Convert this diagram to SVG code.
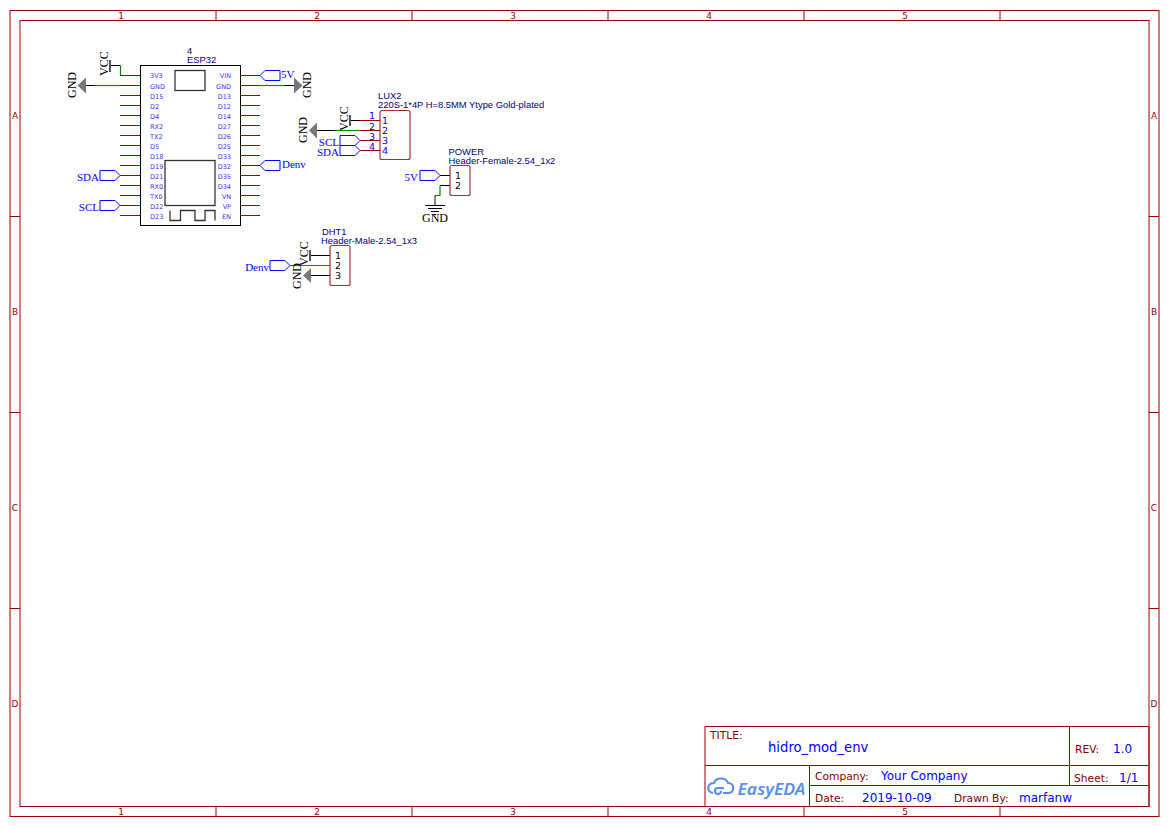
<svg xmlns="http://www.w3.org/2000/svg" width="1169" height="827" viewBox="0 0 1169 827">
<style>
text{font-family:"DejaVu Sans",sans-serif}
.f{fill:none;stroke:#990000;stroke-width:1}
.fl{font-size:9px;fill:#990000;text-anchor:middle}
.tl{font-size:10.700px;fill:#880000}
.tv{font-size:12px;fill:#0000ff}
.pin{stroke:#990000;stroke-width:1;fill:none}
.k{stroke:#000;stroke-width:1;fill:none}
.g{stroke:#008800;stroke-width:1.200;fill:none}
.gy{fill:#777;stroke:none}
.bar{stroke:#555;stroke-width:2;fill:none}
.pt{font-size:6.500px;fill:#3333ff}
.pr{text-anchor:end}
.ref{font-family:"Liberation Sans",sans-serif;font-size:9.400px;fill:#000080}
.num{font-size:9.500px;fill:#0000ff}
.bn{font-size:9.500px;fill:#000}
.net{font-family:"Liberation Serif",serif;font-size:12px;fill:#000}
.nb{font-family:"Liberation Serif",serif;font-size:11px;fill:#0000ff}
.flag{fill:#fff;stroke:#0000ff;stroke-width:1}
.box{fill:#fff;stroke:#993333;stroke-width:1.200}
.mod{fill:none;stroke:#333;stroke-width:1.300}
</style>
<rect width="1169" height="827" fill="#fff"/>
<g id="frame">
<rect class="f" x="10" y="10.500" width="1149" height="806"/>
<rect class="f" x="20" y="20.500" width="1129" height="786"/>
<path class="f" d="M216 10.500V20.500M412 10.500V20.500M608 10.500V20.500M804 10.500V20.500M1000 10.500V20.500M216 806.500V816.500M412 806.500V816.500M608 806.500V816.500M804 806.500V816.500M1000 806.500V816.500M10 216.500H20M10 412.500H20M10 608.500H20M1149 216.500H1159M1149 412.500H1159M1149 608.500H1159"/>
<g class="fl">
<text x="121" y="19">1</text><text x="317" y="19">2</text><text x="513" y="19">3</text><text x="709" y="19">4</text><text x="905" y="19">5</text>
<text x="121" y="815">1</text><text x="317" y="815">2</text><text x="513" y="815">3</text><text x="709" y="815">4</text><text x="905" y="815">5</text>
<text x="15" y="119">A</text><text x="15" y="315">B</text><text x="15" y="511">C</text><text x="15" y="707">D</text>
<text x="1154" y="119">A</text><text x="1154" y="315">B</text><text x="1154" y="511">C</text><text x="1154" y="707">D</text>
</g>
</g>
<g id="title-block">
<rect class="f" x="705" y="726.500" width="444" height="80" fill="#fff"/>
<path class="f" d="M705 765.500H1149M809.500 785.500H1149M1069.500 726.500V785.500M809.500 765.500V806.500"/>
<text class="tl" x="710" y="739">TITLE:</text>
<text x="768" y="752" style="font-size:13.200px;fill:#0000ff">hidro_mod_env</text>
<text class="tl" x="1075" y="753">REV:</text>
<text class="tv" x="1113" y="753">1.0</text>
<text class="tl" x="815" y="780">Company:</text>
<text class="tv" x="881" y="780">Your Company</text>
<text class="tl" x="1074" y="782">Sheet:</text>
<text class="tv" x="1119" y="782">1/1</text>
<text class="tl" x="815" y="802">Date:</text>
<text class="tv" x="862" y="802">2019-10-09</text>
<text class="tl" x="954" y="802">Drawn By:</text>
<text class="tv" x="1019" y="802">marfanw</text>
<path d="M713 793C706 792 707 783 714 783C716 777 726 777 728 783C735 783 735 793 728 793H723M724 788H718A3 3 0 1 0 721 791" fill="none" stroke="#5b8fef" stroke-width="2.200"/>
<text x="737.500" y="795" textLength="68" lengthAdjust="spacingAndGlyphs" style="font-family:'Noto Sans',sans-serif;font-size:16.500px;font-weight:600;font-style:italic;fill:#5b8fef">EasyEDA</text>
</g>
<g id="wires">
<path class="k" d="M111 65.500H120.500"/><path class="g" d="M120.500 65.500V75.500"/>
<path class="k" d="M85 85.500H95"/><path class="g" d="M95 85.500H120"/>
<path class="g" d="M260 85.500H285"/><path class="k" d="M285 85.500H295"/>
<path class="k" d="M350 120.500H360"/>
<path class="k" d="M315 130.500H335"/><path class="g" d="M335 130.500H360"/>
<path class="k" d="M440 175.500H450"/>
<path class="k" d="M450 185.500H440"/><path class="g" d="M440 185.500V195.500H435"/><path class="k" d="M435 195.500V205"/>
<path class="k" d="M310 255.500H330"/>
<path class="g" d="M290 265.500H330"/>
<path class="k" d="M310 275.500H330"/>
</g>
<g id="ESP32">
<rect x="140.500" y="65.500" width="100" height="160" fill="#fff" stroke="#000" stroke-width="1"/>
<path class="pin" d="M120 75.500H140M120 85.500H140M120 95.500H140M120 105.500H140M120 115.500H140M120 125.500H140M120 135.500H140M120 145.500H140M120 155.500H140M120 165.500H140M120 175.500H140M120 185.500H140M120 195.500H140M120 205.500H140M120 215.500H140"/>
<path class="pin" d="M240 75.500H260M240 85.500H260M240 95.500H260M240 105.500H260M240 115.500H260M240 125.500H260M240 135.500H260M240 145.500H260M240 155.500H260M240 165.500H260M240 175.500H260M240 185.500H260M240 195.500H260M240 205.500H260M240 215.500H260"/>
<rect class="mod" x="175" y="70.500" width="30" height="20"/>
<rect class="mod" x="165" y="160.500" width="50" height="45"/>
<path class="mod" d="M170 210.500V220.500H180.500V210.500H195V220.500H205V210.500H215V220.500"/>
<text class="ref" x="187" y="54">4</text>
<text class="ref" x="187" y="63">ESP32</text>
<g class="pt">
<text x="150" y="78">3V3</text><text x="150" y="89">GND</text><text x="150" y="99">D15</text><text x="150" y="109">D2</text><text x="150" y="119">D4</text><text x="150" y="129">RX2</text><text x="150" y="139">TX2</text><text x="150" y="149">D5</text><text x="150" y="159">D18</text><text x="150" y="169">D19</text><text x="150" y="179">D21</text><text x="150" y="189">RX0</text><text x="150" y="199">TX0</text><text x="150" y="209">D22</text><text x="150" y="219">D23</text>
</g>
<g class="pt pr">
<text x="231" y="78">VIN</text><text x="231" y="89">GND</text><text x="231" y="99">D13</text><text x="231" y="109">D12</text><text x="231" y="119">D14</text><text x="231" y="129">D27</text><text x="231" y="139">D26</text><text x="231" y="149">D25</text><text x="231" y="159">D33</text><text x="231" y="169">D32</text><text x="231" y="179">D35</text><text x="231" y="189">D34</text><text x="231" y="199">VN</text><text x="231" y="209">VP</text><text x="231" y="219">EN</text>
</g>
</g>
<g id="LUX2">
<rect class="box" x="380" y="110.500" width="30" height="49" rx="2"/>
<path class="pin" d="M360 120.500H380M360 130.500H380M360 140.500H380M360 150.500H380"/>
<text class="ref" x="378" y="99">LUX2</text>
<text class="ref" x="378" y="108">220S-1*4P H=8.5MM Ytype Gold-plated</text>
<g class="num"><text x="369" y="119">1</text><text x="369" y="130">2</text><text x="369" y="140">3</text><text x="369" y="150">4</text><text x="382" y="124">1</text><text x="382" y="134">2</text><text x="382" y="144">3</text><text x="382" y="154">4</text></g>
</g>
<g id="POWER">
<rect class="box" x="450" y="165.500" width="20" height="30" rx="2"/>
<text class="ref" x="448.500" y="154.500">POWER</text>
<text class="ref" x="448.500" y="163.500">Header-Female-2.54_1x2</text>
<text class="bn" x="455" y="179">1</text><text class="bn" x="455" y="189">2</text>
</g>
<g id="DHT1">
<rect class="box" x="330" y="245.500" width="20" height="40" rx="2"/>
<text class="ref" x="322" y="234.500">DHT1</text>
<text class="ref" x="321" y="243.500">Header-Male-2.54_1x3</text>
<text class="bn" x="335" y="259">1</text><text class="bn" x="335" y="269">2</text><text class="bn" x="335" y="279">3</text>
</g>
<g id="net-flags">
<g id="vcc1"><path class="bar" d="M110 60V72"/><text class="net" transform="translate(108,76) rotate(-90)">VCC</text></g>
<g id="gnd1"><path class="gy" d="M77.500 85.500L86 77.500V93.500Z"/><text class="net" transform="translate(76,98) rotate(-90)">GND</text></g>
<g id="gnd2"><path class="gy" d="M302.500 85.500L294 77.500V93.500Z"/><text class="net" transform="translate(311,98) rotate(-90)">GND</text></g>
<g id="gnd3"><path class="gy" d="M309 130.500L317 122.500V138.500Z"/><text class="net" transform="translate(307,143) rotate(-90)">GND</text></g>
<g id="vcc2"><path class="bar" d="M350 115V126"/><text class="net" transform="translate(348,131) rotate(-90)">VCC</text></g>
<g id="gnd4"><path class="k" d="M425 205.500H445M428 208.500H442M431 211.500H439M434 214.500H436"/><text class="net" x="435" y="221.500" text-anchor="middle">GND</text></g>
<g id="vcc3"><path class="bar" d="M310 250V261"/><text class="net" transform="translate(308,266) rotate(-90)">VCC</text></g>
<g id="gnd5"><path class="gy" d="M303 275.500L311 268V283Z"/><text class="net" transform="translate(301,289) rotate(-90)">GND</text></g>
<g id="f-5v-esp"><path class="flag" d="M280 70.500H265L260 75.500L265 80.500H280Z"/><text class="nb" x="281" y="78">5V</text></g>
<g id="f-denv-esp"><path class="flag" d="M280 160.500H265L260 165.500L265 170.500H280Z"/><text class="nb" x="282" y="168">Denv</text></g>
<g id="f-sda-esp"><path class="flag" d="M100 170.500H115L120 175.500L115 180.500H100Z"/><text class="nb" x="99" y="181" text-anchor="end">SDA</text></g>
<g id="f-scl-esp"><path class="flag" d="M100 200.500H115L120 205.500L115 210.500H100Z"/><text class="nb" x="99" y="211" text-anchor="end">SCL</text></g>
<g id="f-scl-lux"><path class="flag" d="M340 135.500H355L360 140.500L355 145.500H340Z"/><text class="nb" x="339" y="146" text-anchor="end">SCL</text></g>
<g id="f-sda-lux"><path class="flag" d="M340 145.500H355L360 150.500L355 155.500H340Z"/><text class="nb" x="339" y="156" text-anchor="end">SDA</text></g>
<g id="f-5v-pow"><path class="flag" d="M420 170.500H435L440 175.500L435 180.500H420Z"/><text class="nb" x="418" y="181" text-anchor="end">5V</text></g>
<g id="f-denv-dht"><path class="flag" d="M270 260.500H285L290 265.500L285 270.500H270Z"/><text class="nb" x="269" y="271" text-anchor="end">Denv</text></g>
</g>
</svg>
